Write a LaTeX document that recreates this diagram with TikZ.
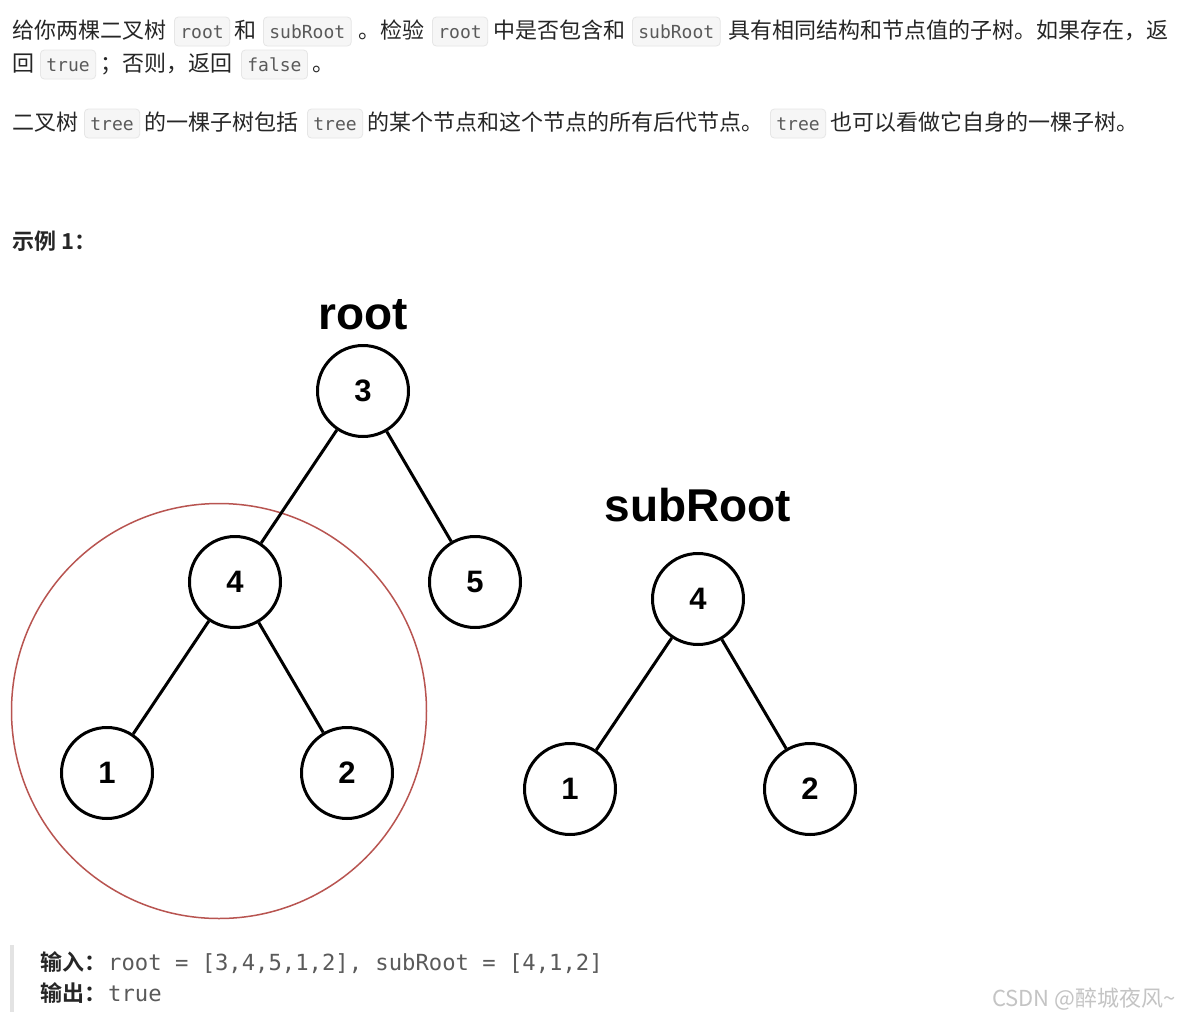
\documentclass[tikz,border=0pt]{standalone}
\usepackage{fontspec}
\setmainfont{Noto Sans CJK SC}
\newfontfamily\cjkbold{Noto Sans CJK SC Bold}
\newfontfamily\arialfont{Liberation Sans}
\newfontfamily\codefont{DejaVu Sans Mono}
\definecolor{bodytext}{HTML}{262626}
\definecolor{codetext}{HTML}{5A5A5A}
\definecolor{codebg}{HTML}{F6F6F6}
\definecolor{codeline}{HTML}{E6E6E6}
\definecolor{ringred}{HTML}{B85450}
\definecolor{quotebar}{HTML}{E3E3E3}
\definecolor{marktext}{HTML}{C4C4C4}
\tikzset{
  txt/.style={anchor=base west, inner sep=0pt, text=bodytext, font=\fontsize{22}{26}\selectfont},
  codebox/.style={anchor=base west, fill=codebg, draw=codeline, line width=0.8pt,
    rounded corners=4pt, inner xsep=6pt, inner ysep=5pt, text height=16pt, text depth=3pt,
    text=codetext, font=\codefont\fontsize{18}{22}\selectfont},
  boldtxt/.style={anchor=base west, inner sep=0pt, text=bodytext, font=\cjkbold\fontsize{22}{26}\selectfont},
  blockcode/.style={anchor=base west, inner sep=0pt, text=codetext, font=\codefont\fontsize{22.2}{26}\selectfont},
  treenode/.style={circle, draw=black, line width=3pt, minimum size=91pt, inner sep=0pt,
    font=\arialfont\bfseries\fontsize{31}{36}\selectfont},
  treelabel/.style={anchor=base, inner sep=0pt, font=\arialfont\bfseries\fontsize{46}{52}\selectfont},
  treeedge/.style={line width=3pt, black},
}
\begin{document}
\begin{tikzpicture}[x=1pt, y=-1pt]
\useasboundingbox[fill=white] (0,0) rectangle (1179,1018);

% first paragraph
\node[txt] (l1a) at (12,38) {给你两棵二叉树};
\node[codebox] (l1b) at (174,38) {root};
\node[txt] (l1c) at (234,38) {和};
\node[codebox] (l1d) at (263,38) {subRoot};
\node[txt] (l1e) at (358,38) {。检验};
\node[codebox] (l1f) at (432,38) {root};
\node[txt] (l1g) at (493,38) {中是否包含和};
\node[codebox] (l1h) at (632,38) {subRoot};
\node[txt] (l1i) at (728,38) {具有相同结构和节点值的子树。如果存在，返};

\node[txt] (l2a) at (12,71) {回};
\node[codebox] (l2b) at (40,71) {true};
\node[txt] (l2c) at (100,71) {；否则，返回};
\node[codebox] (l2d) at (241,71) {false};
\node[txt] (l2e) at (312,71) {。};

% second paragraph
\node[txt] (l3a) at (12,130) {二叉树};
\node[codebox] (l3b) at (84,130) {tree};
\node[txt] (l3c) at (144,130) {的一棵子树包括};
\node[codebox] (l3d) at (307,130) {tree};
\node[txt] (l3e) at (367,130) {的某个节点和这个节点的所有后代节点。};
\node[codebox] (l3f) at (770,130) {tree};
\node[txt] (l3g) at (830,130) {也可以看做它自身的一棵子树。};

% example heading
\node[boldtxt] (ex) at (12,249) {示例 1：};

% highlighted subtree
\draw[ringred, line width=1.5pt] (219,711) circle[radius=207.5];

% tree root
\node[treelabel] (rootlbl) at (363,329) {root};
\node[treenode] (r3) at (363,391) {3};
\node[treenode] (r4) at (235,582) {4};
\node[treenode] (r5) at (475,582) {5};
\node[treenode] (r1) at (107,773) {1};
\node[treenode] (r2) at (347,773) {2};
\draw[treeedge] (r3) -- (r4);
\draw[treeedge] (r3) -- (r5);
\draw[treeedge] (r4) -- (r1);
\draw[treeedge] (r4) -- (r2);

% tree subRoot
\node[treelabel] (sublbl) at (698,521) {subRoot};
\node[treenode] (s4) at (698,599) {4};
\node[treenode] (s1) at (570,789) {1};
\node[treenode] (s2) at (810,789) {2};
\draw[treeedge] (s4) -- (s1);
\draw[treeedge] (s4) -- (s2);

% input / output block
\fill[quotebar] (10,945) rectangle (14,1012);
\node[boldtxt] (inlbl) at (40,970) {输入：};
\node[blockcode] (incode) at (108,970) {root = [3,4,5,1,2], subRoot = [4,1,2]};
\node[boldtxt] (outlbl) at (40,1001) {输出：};
\node[blockcode] (outcode) at (108,1001) {true};

% watermark
\node[anchor=base east, inner sep=0pt, text=marktext, font=\fontsize{22}{26}\selectfont] (mark) at (1176,1006) {CSDN @醉城夜风\textasciitilde};
\end{tikzpicture}
\end{document}
